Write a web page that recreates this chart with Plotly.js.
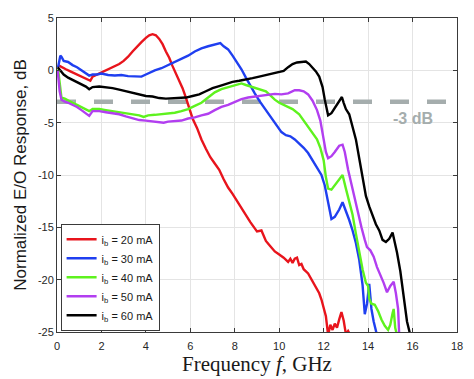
<!DOCTYPE html>
<html>
<head>
<meta charset="utf-8">
<script src="https://cdn.plot.ly/plotly-3.0.1.min.js"></script>
<style>html,body{margin:0;padding:0;background:#fff;}#chart{width:474px;height:379px;}</style>
</head>
<body>
<div id="chart"></div>
<script>
const seriesNames = ['i<sub>b</sub> = 20 mA','i<sub>b</sub> = 30 mA','i<sub>b</sub> = 40 mA','i<sub>b</sub> = 50 mA','i<sub>b</sub> = 60 mA'];
const seriesColors = ['#e8141c','#1f3ff0','#5ef21e','#b23ef0','#000000'];

const freq20 = [0.05,0.2,0.4,0.6,0.8,1.0,1.2,1.4,1.5,1.6,1.8,2.0,2.2,2.4,2.6,2.8,3.0,3.2,3.4,3.6,3.8,4.0,4.15,4.3,4.45,4.6,4.75,4.9,5.05,5.2,5.35,5.5,5.65,5.8,5.95,6.1,6.3,6.5,6.7,6.9,7.1,7.3,7.5,7.7,7.9,8.1,8.3,8.5,8.7,8.9,9.0,9.2,9.4,9.6,9.8,10.0,10.2,10.4,10.5,10.6,10.7,10.8,10.9,11.0,11.1,11.3,11.5,11.6,11.7,11.8,11.9,12.0,12.1,12.15,12.2,12.3,12.4,12.5,12.6,12.7,12.8,12.9,13.0,13.1,13.2];
const resp20 = [0.5,0.3,0.1,-0.1,-0.3,-0.5,-0.7,-0.9,-1.0,-0.6,-0.4,-0.2,0.0,0.2,0.4,0.6,0.9,1.3,1.8,2.3,2.7,3.1,3.35,3.45,3.35,3.0,2.5,1.8,1.2,0.4,-0.3,-1.0,-1.7,-2.6,-3.5,-4.6,-5.5,-6.6,-7.5,-8.3,-8.9,-9.5,-10.4,-11.2,-11.8,-12.5,-13.1,-13.8,-14.5,-15.1,-15.4,-15.3,-16.3,-16.8,-17.3,-17.6,-17.9,-18.3,-18.0,-18.4,-18.0,-17.9,-18.6,-18.5,-19.0,-19.4,-20.2,-20.6,-20.9,-21.3,-21.9,-22.6,-23.5,-24.4,-25.3,-24.3,-24.8,-24.2,-24.6,-23.8,-23.1,-23.9,-25.2,-24.9,-25.3];

const freq30 = [0.05,0.15,0.2,0.3,0.5,0.7,0.9,1.1,1.3,1.45,1.6,1.8,2.0,2.3,2.6,2.9,3.2,3.5,3.8,4.0,4.2,4.4,4.7,5.0,5.3,5.6,5.9,6.2,6.5,6.8,7.0,7.2,7.35,7.5,7.7,7.9,8.1,8.3,8.5,8.7,8.9,9.1,9.3,9.5,9.7,9.9,10.1,10.3,10.5,10.7,10.9,11.1,11.3,11.5,11.7,11.9,12.05,12.2,12.35,12.5,12.7,12.85,13.0,13.15,13.3,13.45,13.6,13.75,13.85,13.95,14.05,14.15,14.25,14.4];
const resp30 = [0.3,1.4,1.3,0.9,0.8,0.5,0.3,0.0,-0.3,-0.5,-0.4,-0.4,-0.3,-0.45,-0.5,-0.45,-0.55,-0.6,-0.6,-0.4,-0.2,0.0,0.2,0.5,0.8,1.1,1.4,1.8,2.1,2.3,2.4,2.5,2.6,2.3,2.0,1.4,0.8,0.1,-0.7,-1.5,-2.2,-2.9,-3.5,-4.1,-4.6,-5.3,-5.9,-6.2,-6.3,-6.6,-7.0,-7.4,-7.9,-8.6,-9.2,-10.0,-11.0,-12.6,-14.2,-14.0,-13.3,-12.6,-13.4,-14.3,-15.3,-16.5,-18.1,-20.5,-23.3,-22.3,-20.4,-22.8,-24.0,-25.3];

const freq40 = [0.05,0.12,0.2,0.35,0.5,0.7,0.9,1.1,1.3,1.45,1.6,1.9,2.2,2.5,2.8,3.1,3.4,3.7,3.9,4.1,4.4,4.7,5.0,5.3,5.6,5.9,6.2,6.5,6.8,7.1,7.4,7.7,8.0,8.3,8.5,8.8,9.1,9.4,9.6,9.8,10.0,10.3,10.6,10.9,11.1,11.3,11.5,11.7,11.85,12.0,12.1,12.2,12.35,12.5,12.7,12.85,13.0,13.15,13.3,13.45,13.6,13.75,13.9,14.0,14.05,14.15,14.3,14.45,14.6,14.75,14.9,15.0,15.1,15.15,15.22,15.3];
const resp40 = [0.1,-1.5,-2.6,-2.7,-2.9,-3.1,-3.3,-3.5,-3.7,-3.9,-3.7,-3.7,-3.8,-3.9,-4.0,-4.1,-4.2,-4.3,-4.45,-4.3,-4.25,-4.2,-4.15,-4.05,-3.9,-3.7,-3.4,-3.1,-2.6,-2.1,-1.8,-1.6,-1.4,-1.25,-1.4,-1.6,-1.8,-2.0,-2.4,-2.8,-3.1,-3.4,-3.7,-4.2,-4.8,-5.3,-5.9,-6.6,-7.4,-8.6,-10.2,-11.3,-11.4,-11.0,-10.4,-10.0,-11.3,-12.5,-13.8,-15.6,-17.4,-19.0,-20.3,-20.6,-21.8,-22.3,-22.4,-23.0,-23.8,-24.4,-24.8,-24.3,-23.2,-22.8,-24.6,-25.3];

const freq50 = [0.03,0.12,0.2,0.35,0.5,0.7,0.9,1.1,1.3,1.45,1.6,1.9,2.2,2.5,2.8,3.1,3.4,3.7,4.0,4.3,4.6,4.8,5.0,5.3,5.6,5.9,6.2,6.5,6.8,7.1,7.4,7.7,8.0,8.3,8.6,8.9,9.2,9.5,9.8,10.1,10.4,10.7,10.9,11.1,11.3,11.5,11.7,11.85,12.0,12.1,12.2,12.35,12.5,12.7,12.85,12.95,13.1,13.25,13.4,13.55,13.7,13.85,13.95,14.1,14.25,14.4,14.55,14.7,14.85,15.0,15.15,15.25,15.35,15.4];
const resp50 = [0.0,-2.0,-2.8,-3.0,-3.1,-3.3,-3.5,-3.8,-4.1,-4.35,-3.9,-3.9,-4.0,-4.1,-4.2,-4.4,-4.6,-4.75,-4.8,-4.85,-4.95,-5.0,-4.9,-4.85,-4.8,-4.6,-4.5,-4.3,-4.15,-3.8,-3.5,-3.3,-3.0,-2.75,-2.6,-2.5,-2.4,-2.3,-2.25,-2.3,-2.2,-1.9,-1.9,-2.0,-2.3,-2.9,-3.8,-4.8,-6.6,-7.8,-8.4,-8.2,-7.8,-7.2,-7.1,-7.8,-9.5,-10.9,-12.3,-13.8,-15.0,-16.2,-16.9,-17.2,-17.8,-18.8,-19.5,-20.3,-21.2,-20.6,-20.2,-21.3,-22.8,-25.3];

const freq60 = [0.03,0.15,0.3,0.5,0.7,0.9,1.1,1.3,1.45,1.6,1.9,2.2,2.5,2.8,3.1,3.4,3.7,4.0,4.3,4.6,4.9,5.2,5.5,5.8,6.1,6.4,6.7,7.0,7.3,7.6,7.9,8.2,8.5,8.8,9.1,9.4,9.7,10.0,10.2,10.4,10.6,10.8,11.0,11.2,11.35,11.5,11.65,11.8,11.95,12.05,12.2,12.35,12.5,12.6,12.72,12.82,12.9,13.0,13.15,13.3,13.45,13.6,13.75,13.9,14.05,14.2,14.35,14.5,14.65,14.8,14.95,15.1,15.2,15.3,15.45,15.6,15.75,15.9];
const resp60 = [0.3,0.0,-0.4,-0.7,-0.9,-1.1,-1.3,-1.55,-1.8,-1.6,-1.55,-1.6,-1.7,-1.85,-2.0,-2.2,-2.35,-2.45,-2.5,-2.65,-2.7,-2.65,-2.6,-2.6,-2.45,-2.3,-2.0,-1.7,-1.5,-1.3,-1.1,-1.0,-0.9,-0.75,-0.6,-0.45,-0.3,-0.2,-0.05,0.3,0.6,0.75,0.8,0.85,0.6,0.25,-0.1,-0.6,-1.6,-2.8,-4.3,-4.1,-3.6,-3.3,-2.9,-2.55,-3.1,-3.7,-4.2,-5.3,-6.6,-8.4,-10.2,-12.0,-13.0,-13.9,-14.7,-15.3,-16.2,-16.4,-16.1,-15.5,-16.4,-17.4,-19.2,-21.5,-24.0,-25.3];

const thresholdX = [0, 18];
const thresholdY = [-3, -3];
const thresholdLabel = '-3 dB';

const xTicks = [0,2,4,6,8,10,12,14,16,18];
const yTicks = [5,0,-5,-10,-15,-20,-25];

const freqs = [freq20, freq30, freq40, freq50, freq60];
const resps = [resp20, resp30, resp40, resp50, resp60];

const traces = [{
  x: thresholdX, y: thresholdY, mode: 'lines', showlegend: false, hoverinfo: 'skip',
  line: {color: '#a5adad', width: 4.5, dash: '19px,18px'}
}];
for (let i = 0; i < freqs.length; i++) {
  traces.push({
    x: freqs[i], y: resps[i], mode: 'lines', name: seriesNames[i],
    line: {color: seriesColors[i], width: 2.4}
  });
}

const axisCommon = {
  showline: true, linecolor: '#3a3a3a', linewidth: 1, mirror: 'allticks',
  ticks: 'inside', ticklen: 4, tickcolor: '#3a3a3a',
  showgrid: true, gridcolor: '#e4e4e4', gridwidth: 1, zeroline: false,
  tickfont: {family: 'Liberation Sans, Arial, sans-serif', size: 11, color: '#262626'},
  automargin: false
};

const layout = {
  width: 474, height: 379,
  margin: {l: 57, r: 17, t: 18, b: 47},
  paper_bgcolor: '#ffffff', plot_bgcolor: '#ffffff',
  showlegend: true,
  xaxis: Object.assign({}, axisCommon, {
    range: [0, 18], tickvals: xTicks, ticktext: xTicks.map(String),
    ticklabelstandoff: 4,
    title: {text: 'Frequency <i>f</i>, GHz', standoff: 5,
      font: {family: 'Liberation Serif, DejaVu Serif, serif', size: 21, color: '#1a1a1a'}}
  }),
  yaxis: Object.assign({}, axisCommon, {
    range: [-25, 5], tickvals: yTicks, ticktext: yTicks.map(String),
    title: {text: 'Normalized E/O Response, dB', standoff: 6,
      font: {family: 'Liberation Sans, Arial, sans-serif', size: 17, color: '#1a1a1a'}}
  }),
  legend: {
    x: 0.009, y: 0.004, xanchor: 'left', yanchor: 'bottom',
    bgcolor: '#ffffff', bordercolor: '#3a3a3a', borderwidth: 1,
    font: {family: 'Liberation Sans, Arial, sans-serif', size: 11, color: '#1a1a1a'},
    itemwidth: 30
  },
  annotations: [{
    x: 16.0, y: -4.6, xref: 'x', yref: 'y', text: thresholdLabel, showarrow: false,
    font: {family: 'Liberation Sans, Arial, sans-serif', size: 16, color: '#a5adad', weight: 'bold'}
  }]
};

Plotly.newPlot('chart', traces, layout, {staticPlot: true, displayModeBar: false});
</script>
</body>
</html>
